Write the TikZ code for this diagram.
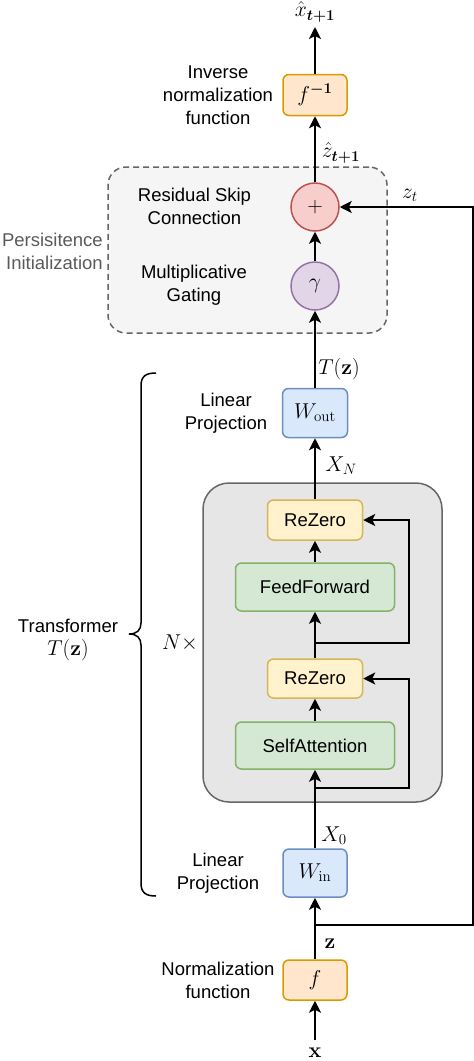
\RequirePackage{fix-cm}
\documentclass[tikz,border=0pt]{standalone}
\usepackage{amsmath}
\usepackage[no-math]{fontspec}
\setmainfont{Liberation Sans}
\usetikzlibrary{arrows.meta}
\definecolor{orfill}{HTML}{FFE6CC}\definecolor{ordraw}{HTML}{D79B00}
\definecolor{rdfill}{HTML}{F8CECC}\definecolor{rddraw}{HTML}{B85450}
\definecolor{pufill}{HTML}{E1D5E7}\definecolor{pudraw}{HTML}{9673A6}
\definecolor{blfill}{HTML}{DAE8FC}\definecolor{bldraw}{HTML}{6C8EBF}
\definecolor{yefill}{HTML}{FFF2CC}\definecolor{yedraw}{HTML}{D6B656}
\definecolor{grfill}{HTML}{D5E8D4}\definecolor{grdraw}{HTML}{82B366}
\definecolor{pfill}{HTML}{F5F5F5}\definecolor{bfill}{HTML}{E6E6E6}
\definecolor{dgray}{HTML}{666666}
\definecolor{tgray}{HTML}{5A5A5A}
\newcommand\mfs{\fontsize{21.5}{25}\selectfont}
\begin{document}
\begin{tikzpicture}[x=1pt,y=-1pt,
  every node/.style={font=\fontsize{18.5}{23}\selectfont},
  lab/.style={align=center, inner sep=0pt},
  mlab/.style={lab, font=\mfs},
  arr/.style={line width=2pt, -{Stealth[length=12pt,width=12pt,inset=3pt]}},
  boxbase/.style={draw, line width=1.5pt, rounded corners=6pt, inner sep=0pt},
  orbox/.style={boxbase, fill=orfill, draw=ordraw},
  blbox/.style={boxbase, fill=blfill, draw=bldraw},
  yebox/.style={boxbase, fill=yefill, draw=yedraw},
  grbox/.style={boxbase, fill=grfill, draw=grdraw},
  circ/.style={circle, line width=1.5pt, minimum size=48pt, inner sep=0pt, font=\mfs},
]
\useasboundingbox (0,0) rectangle (474,1061);

% group backgrounds
\node[draw=dgray, fill=pfill, line width=1.5pt, dash pattern=on 6pt off 4pt,
      rounded corners=18pt, minimum width=279pt, minimum height=166pt] (pers) at (247.5,250) {};
\node[draw=dgray, fill=bfill, line width=1.5pt, rounded corners=26pt,
      minimum width=239pt, minimum height=319pt] (blk) at (322.5,642.5) {};

% main nodes
\node[orbox, font=\mfs, minimum width=64pt, minimum height=41pt] (finv) at (315,95) {$f^{\boldsymbol{-1}}$};
\node[circ, fill=rdfill, draw=rddraw] (plus) at (315,207) {$+$};
\node[circ, fill=pufill, draw=pudraw] (gam) at (315,286) {$\gamma$};
\node[blbox, font=\mfs, minimum width=65pt, minimum height=49pt] (wout) at (315,413) {$W_{\mathrm{out}}$};
\node[yebox, minimum width=95pt, minimum height=40pt] (rz2) at (315,520) {ReZero};
\node[grbox, minimum width=159pt, minimum height=48pt] (ff) at (315,587) {FeedForward};
\node[yebox, minimum width=95pt, minimum height=39pt] (rz1) at (315,678.5) {ReZero};
\node[grbox, minimum width=159pt, minimum height=47pt] (sa) at (315,745.5) {SelfAttention};
\node[blbox, font=\mfs, minimum width=64pt, minimum height=48pt] (win) at (315,873) {$W_{\mathrm{in}}$};
\node[orbox, font=\mfs, minimum width=64pt, minimum height=40pt] (fn) at (315,980) {$f$};

% signal labels
\node[mlab] (xhat) at (315,12) {$\hat{x}_{\boldsymbol{t+1}}$};
\coordinate (xtop) at (315,27);
\node[mlab] (zhat) at (341,153) {$\hat{z}_{\boldsymbol{t+1}}$};
\node[mlab] (zt) at (410,195) {$z_t$};
\node[mlab] (tz) at (339,369) {$T(\mathbf{z})$};
\node[mlab] (xn) at (341,466) {$X_N$};
\node[mlab] (x0) at (334,836) {$X_0$};
\node[mlab] (zl) at (330,944) {$\mathbf{z}$};
\node[mlab, anchor=base] (xl) at (315,1057) {$\mathbf{x}$};
\coordinate (xbot) at (315,1040);

% side texts
\node[lab] (tinv) at (218,95) {Inverse\\normalization\\function};
\node[lab] (tres) at (194.5,206.5) {Residual Skip\\Connection};
\node[lab] (tmul) at (194,285.5) {Multiplicative\\Gating};
\node[lab, align=right, anchor=east, text=tgray] (tper) at (103,251) {Persisitence\\Initialization};
\node[lab] (tlp2) at (226,413.5) {Linear\\Projection};
\node[mlab] (tnx) at (180,643) {$N\times$};
\node[lab] (ttr) at (68,640) {Transformer\\{\mfs$T(\mathbf{z})$}};
\node[lab] (tlp1) at (218,873.5) {Linear\\Projection};
\node[lab] (tnorm) at (218,980.5) {Normalization\\function};

% brace
\draw[line width=1.5pt] (156,373) .. controls (146,373) and (141,376) .. (141,386)
  -- (141,623) .. controls (141,630) and (137,634) .. (129,634)
  .. controls (137,634) and (141,638) .. (141,645)
  -- (141,883) .. controls (141,893) and (146,896) .. (156,896);

% connectors
\draw[arr] (xbot) -- (fn.south);
\draw[arr] (fn.north) -- (win.south);
\draw[arr] (win.north) -- (sa.south);
\draw[arr] (sa.north) -- (rz1.south);
\draw[arr] (rz1.north) -- (ff.south);
\draw[arr] (ff.north) -- (rz2.south);
\draw[arr] (rz2.north) -- (wout.south);
\draw[arr] (wout.north) -- (gam.south);
\draw[arr] (gam.north) -- (plus.south);
\draw[arr] (plus.north) -- (finv.south);
\draw[arr] (finv.north) -- (xtop);

\coordinate (b1) at (315,788);
\coordinate (b1r) at (409,788);
\draw[arr] (b1) -- (b1r) |- (rz1.east);
\coordinate (b2) at (315,643);
\coordinate (b2r) at (409,643);
\draw[arr] (b2) -- (b2r) |- (rz2.east);
\coordinate (j1) at (315,925);
\coordinate (j1r) at (473,925);
\draw[arr] (j1) -- (j1r) |- (plus.east);
\end{tikzpicture}
\end{document}
